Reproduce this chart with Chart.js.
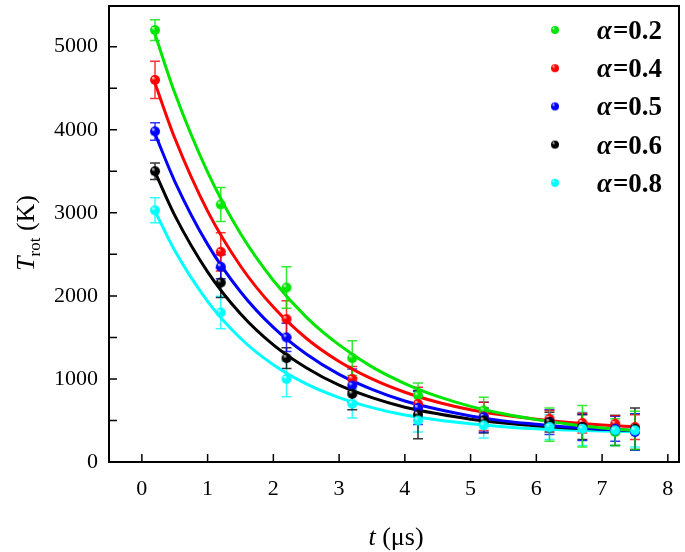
<!DOCTYPE html>
<html>
<head>
  <meta charset="UTF-8">
  <title>Rotational temperature decay</title>
  <script src="https://cdn.jsdelivr.net/npm/chart.js"></script>
  <style>
    html, body { margin: 0; padding: 0; background: #fff; }
    .chart-container { width: 685px; height: 552px; }
  </style>
</head>
<body>
  <div class="chart-container">
    <canvas id="trotChart" width="685" height="552"></canvas>
  </div>

  <script>
    // measured points (t in us, T_rot in K) and their error bars
    const tPoints = [0.2, 1.2, 2.2, 3.2, 4.2, 5.2, 6.2, 6.7, 7.2, 7.5];
    const alphaLabels = ['0.2', '0.4', '0.5', '0.6', '0.8'];
    const seriesColors = ['#00e600', '#ff0000', '#0000ff', '#000000', '#00ffff'];

    const tA02 = [5200, 3100, 2100, 1250, 800, 620, 450, 430, 360, 380];
    const tA04 = [4600, 2530, 1720, 1000, 700, 550, 520, 470, 460, 420];
    const tA05 = [3980, 2350, 1500, 920, 650, 540, 480, 420, 400, 360];
    const tA06 = [3500, 2160, 1250, 820, 570, 500, 480, 420, 380, 400];
    const tA08 = [3030, 1800, 1000, 700, 500, 440, 420, 400, 380, 380];

    const errA02 = [125, 205, 250, 210, 150, 160, 200, 250, 160, 230];
    const errA04 = [225, 230, 220, 150, 200, 170, 100, 120, 100, 150];
    const errA05 = [105, 145, 170, 200, 200, 180, 150, 160, 150, 220];
    const errA06 = [100, 180, 125, 190, 290, 150, 120, 150, 180, 250];
    const errA08 = [150, 195, 215, 170, 140, 150, 150, 200, 180, 200];

    // fitted curves
    const fitT = [0.2, 0.5, 1, 1.5, 2, 2.5, 3, 3.5, 4, 4.5, 5, 5.5, 6, 6.5, 7, 7.5];
    const fitA02 = [5150, 4445, 3490, 2750, 2185, 1745, 1410, 1145, 945, 790, 670, 580, 510, 455, 410, 380];
    const fitA04 = [4560, 3900, 3020, 2360, 1865, 1490, 1210, 1000, 840, 720, 630, 565, 515, 475, 445, 425];
    const fitA05 = [3950, 3380, 2620, 2050, 1620, 1300, 1055, 875, 735, 635, 555, 495, 455, 420, 395, 375];
    const fitA06 = [3490, 2970, 2290, 1785, 1410, 1135, 925, 775, 660, 580, 515, 470, 435, 410, 395, 380];
    const fitA08 = [3020, 2545, 1935, 1490, 1170, 940, 775, 655, 565, 505, 460, 425, 400, 385, 372, 363];

    const xTicks = [0, 1, 2, 3, 4, 5, 6, 7, 8];
    const yTicks = [0, 1000, 2000, 3000, 4000, 5000];
    const yMinorTicks = [500, 1500, 2500, 3500, 4500];

    const pointSets = [tA02, tA04, tA05, tA06, tA08];
    const errSets = [errA02, errA04, errA05, errA06, errA08];
    const fitSets = [fitA02, fitA04, fitA05, fitA06, fitA08];

    const serif = '"Liberation Serif", "DejaVu Serif", serif';
    Chart.defaults.font.family = serif;

    // little shaded balls like the origin markers
    function ball(color, r) {
      const c = document.createElement('canvas');
      c.width = c.height = 2 * r + 2;
      const g = c.getContext('2d');
      const grad = g.createRadialGradient(r * 0.75, r * 0.7, 0, r + 1, r + 1, r);
      grad.addColorStop(0, '#ffffff');
      grad.addColorStop(0.4, color);
      grad.addColorStop(1, color);
      g.fillStyle = grad;
      g.beginPath();
      g.arc(r + 1, r + 1, r, 0, Math.PI * 2);
      g.fill();
      return c;
    }

    const toXY = (xs, ys) => xs.map((x, i) => ({ x: x, y: ys[i] }));

    const datasets = [];
    fitSets.forEach((fit, i) => {
      datasets.push({
        label: 'fit ' + alphaLabels[i],
        data: toXY(fitT, fit),
        showLine: true,
        borderColor: seriesColors[i],
        borderWidth: 3,
        pointRadius: 0,
        cubicInterpolationMode: 'monotone',
        order: 10 + i
      });
    });
    pointSets.forEach((pts, i) => {
      datasets.push({
        label: 'α=' + alphaLabels[i],
        data: toXY(tPoints, pts),
        showLine: false,
        pointStyle: ball(seriesColors[i], 5),
        pointRadius: 5,
        order: 5 - i
      });
    });

    const frameAndText = {
      id: 'frameAndText',
      beforeDatasetsDraw(chart) {
        // error bars underneath the markers and lines
        const { ctx, scales: { x, y } } = chart;
        ctx.save();
        ctx.beginPath();
        ctx.rect(chart.chartArea.left, chart.chartArea.top, chart.chartArea.width, chart.chartArea.height);
        ctx.clip();
        ctx.lineWidth = 1.5;
        for (let d = pointSets.length - 1; d >= 0; d--) {
          ctx.strokeStyle = seriesColors[d];
          ctx.globalAlpha = 0.8;
          tPoints.forEach((t, i) => {
            const px = x.getPixelForValue(t);
            const top = y.getPixelForValue(pointSets[d][i] + errSets[d][i]);
            const bot = y.getPixelForValue(pointSets[d][i] - errSets[d][i]);
            ctx.beginPath();
            ctx.moveTo(px, top); ctx.lineTo(px, bot);
            ctx.moveTo(px - 5, top); ctx.lineTo(px + 5, top);
            ctx.moveTo(px - 5, bot); ctx.lineTo(px + 5, bot);
            ctx.stroke();
          });
        }
        ctx.restore();
      },
      afterDraw(chart) {
        const { ctx, chartArea: a, scales: { x, y } } = chart;
        ctx.save();
        ctx.strokeStyle = '#000';
        ctx.lineWidth = 2;
        ctx.strokeRect(a.left, a.top, a.right - a.left, a.bottom - a.top);
        ctx.lineWidth = 1.5;
        ctx.beginPath();
        xTicks.forEach(v => {
          const px = x.getPixelForValue(v);
          ctx.moveTo(px, a.bottom); ctx.lineTo(px, a.bottom - 8);
        });
        yTicks.concat(yMinorTicks).forEach(v => {
          const py = y.getPixelForValue(v);
          ctx.moveTo(a.left, py); ctx.lineTo(a.left + 8, py);
        });
        ctx.stroke();

        // legend
        ctx.textBaseline = 'alphabetic';
        alphaLabels.forEach((lab, i) => {
          const cy = 30 + i * 38.2;
          ctx.drawImage(ball(seriesColors[i], 4), 555 - 5, cy - 5);
          ctx.fillStyle = '#000';
          ctx.font = 'italic bold 27px ' + serif;
          ctx.fillText('α', 597, cy + 9);
          const w = ctx.measureText('α').width;
          ctx.font = 'bold 27px ' + serif;
          ctx.fillText('=' + lab, 597 + w + 1, cy + 9);
        });

        // x title
        ctx.font = 'italic 26px ' + serif;
        const w1 = ctx.measureText('t').width;
        ctx.font = '26px ' + serif;
        const w2 = ctx.measureText(' (μs)').width;
        let sx = 396 - (w1 + w2) / 2;
        ctx.font = 'italic 26px ' + serif;
        ctx.fillText('t', sx, 545);
        ctx.font = '26px ' + serif;
        ctx.fillText(' (μs)', sx + w1, 545);

        // y title, rotated
        ctx.translate(34, 233);
        ctx.rotate(-Math.PI / 2);
        ctx.font = 'italic 26px ' + serif;
        const tw = ctx.measureText('T').width;
        ctx.font = '17px ' + serif;
        const sw = ctx.measureText('rot').width;
        ctx.font = '26px ' + serif;
        const kw = ctx.measureText(' (K)').width;
        let s = -(tw + sw + kw) / 2;
        ctx.font = 'italic 26px ' + serif;
        ctx.fillText('T', s, 0);
        ctx.font = '17px ' + serif;
        ctx.fillText('rot', s + tw, 6);
        ctx.font = '26px ' + serif;
        ctx.fillText(' (K)', s + tw + sw, 0);
        ctx.restore();
      }
    };

    const ctx = document.getElementById('trotChart').getContext('2d');
    const trotChart = new Chart(ctx, {
      type: 'scatter',
      data: { datasets: datasets },
      options: {
        responsive: false,
        animation: false,
        layout: { padding: { left: 0, top: -3, right: 3, bottom: 0 } },
        plugins: { legend: { display: false }, tooltip: { enabled: false } },
        scales: {
          x: {
            type: 'linear',
            min: -0.5,
            max: 8.17,
            afterBuildTicks: s => { s.ticks = xTicks.map(v => ({ value: v })); },
            afterFit: s => { s.height = 90; s.paddingLeft = 0; s.paddingRight = 0; },
            grid: { display: false, drawTicks: false },
            border: { display: false },
            ticks: { font: { family: serif, size: 22 }, color: '#000', padding: 14, maxRotation: 0,
              callback: v => String(v) }
          },
          y: {
            type: 'linear',
            min: 0,
            max: 5490,
            afterBuildTicks: s => { s.ticks = yTicks.map(v => ({ value: v })); },
            afterFit: s => { s.width = 109; s.paddingTop = 0; s.paddingBottom = 0; },
            grid: { display: false, drawTicks: false },
            border: { display: false },
            ticks: { font: { family: serif, size: 22 }, color: '#000', padding: 11,
              callback: v => String(v) }
          }
        }
      },
      plugins: [frameAndText]
    });
  </script>
</body>
</html>
